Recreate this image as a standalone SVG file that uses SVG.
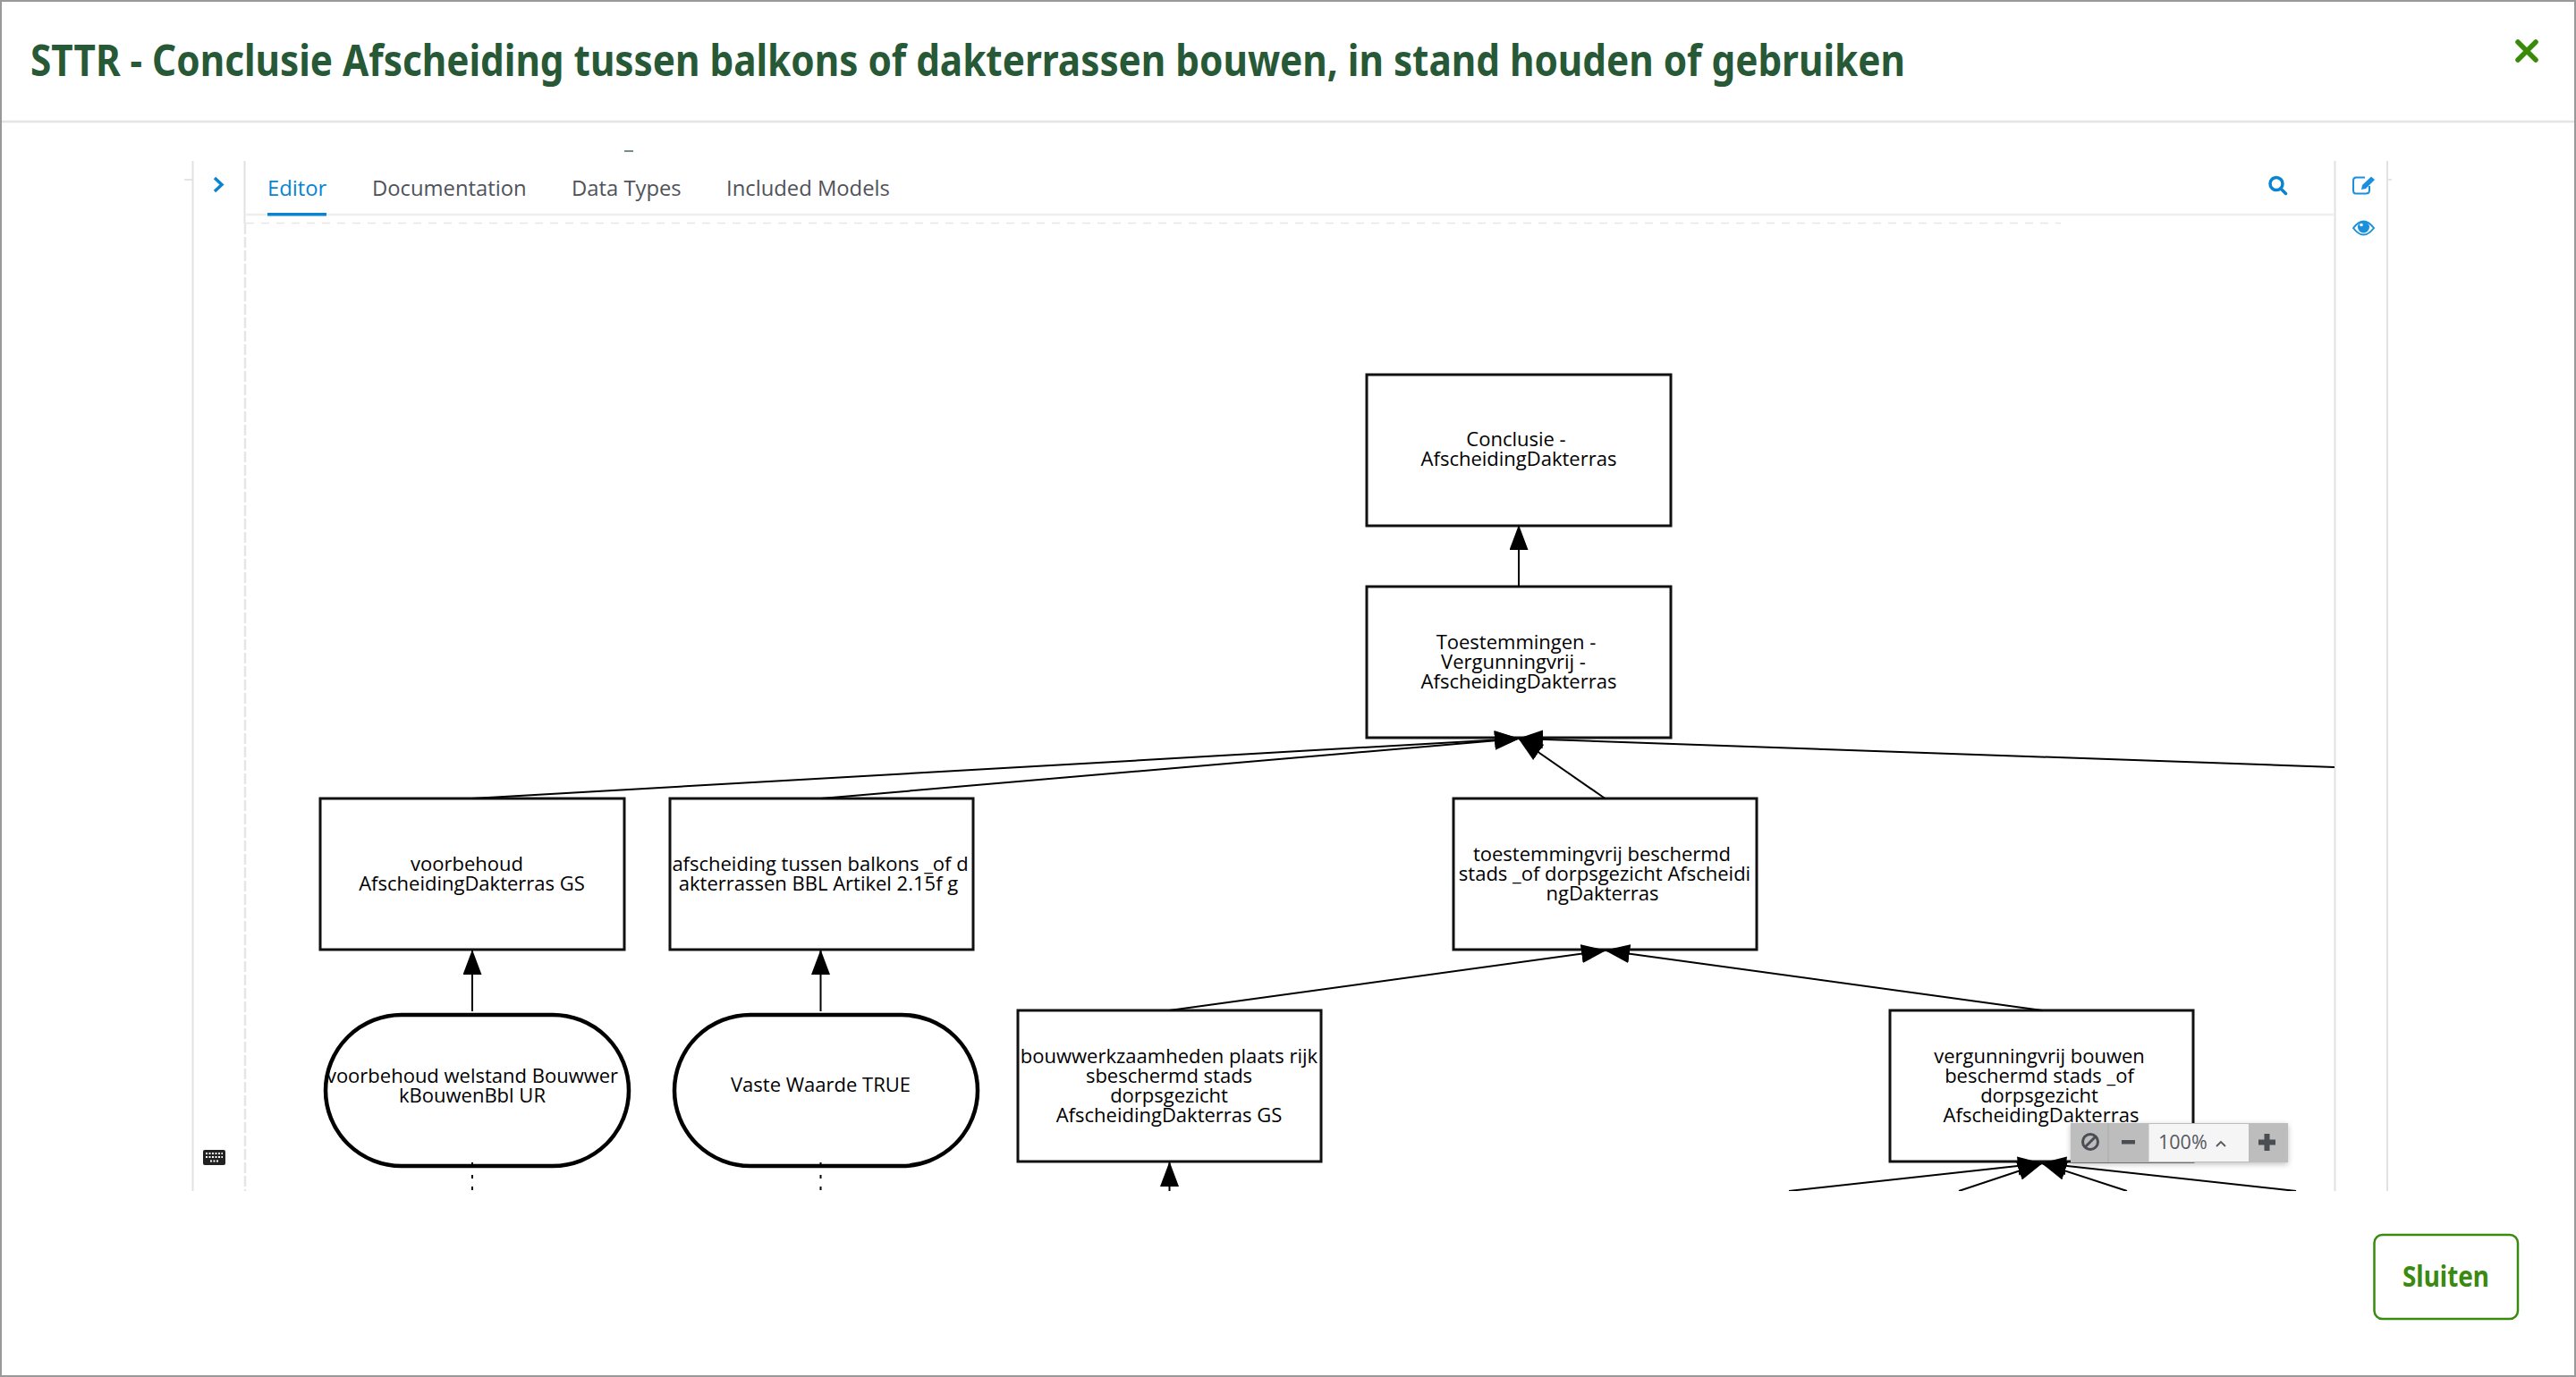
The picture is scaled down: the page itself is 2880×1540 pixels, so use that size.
<svg xmlns="http://www.w3.org/2000/svg" width="2880" height="1540" viewBox="0 0 2880 1540">
<style>
text{font-family:"Open Sans","Noto Sans",sans-serif}
.n{fill:#fff;stroke:#111;stroke-width:3}
.o{fill:#fff;stroke:#000;stroke-width:4.500}
.t{font-size:22px;fill:#000;text-anchor:middle}
.e{fill:none;stroke:#000;stroke-width:2}
.ui{fill:none;stroke:#e2e2e2;stroke-width:2}
.tab{font-size:23.800px;fill:#505259}
.z{fill:#4a4d52}
</style>
<defs>
<marker id="ah" markerUnits="userSpaceOnUse" markerWidth="30" markerHeight="22" refX="27" refY="10.500" orient="auto"><path d="M0 0L28 10.500L0 21Z" fill="#000"/></marker>
<clipPath id="canvas"><rect x="275" y="250" width="2335" height="1082"/></clipPath>
<filter id="sh" x="-5%" y="-10%" width="110%" height="130%"><feDropShadow dx="0" dy="2" stdDeviation="3" flood-color="#000" flood-opacity=".25"/></filter>
</defs>
<rect width="2880" height="1540" fill="#fff"/>
<g id="chrome">
<rect x="1" y="1" width="2878" height="1538" fill="none" stroke="#999" stroke-width="2"/>
<path d="M2 136H2878" stroke="#e4e4e4" stroke-width="2.500"/>
<text x="34" y="85" font-size="48" font-weight="700" fill="#275937" textLength="2096" lengthAdjust="spacingAndGlyphs" style="font-family:'Noto Sans',sans-serif">STTR - Conclusie Afscheiding tussen balkons of dakterrassen bouwen, in stand houden of gebruiken</text>
<path d="M2815 47L2835 67M2835 47L2815 67" stroke="#3a8a0a" stroke-width="5.500" stroke-linecap="round"/>
<path d="M698 169H708" stroke="#4a6a55" stroke-width="1.500"/>
<path class="ui" d="M215.500 180V1332M273.500 180V250M2610.500 180V1332M2669 180V1332"/>
<path d="M206 201H215M2670 201H2674" stroke="#ddd" stroke-width="1.500"/>
<path d="M275 240H2610" stroke="#eee" stroke-width="2.500"/>
<path d="M275 249.500H2304" stroke="#e6e6e6" stroke-width="1.500" stroke-dasharray="9 8"/>
<path d="M274 250V1332" stroke="#e6e6e6" stroke-width="2.500" stroke-dasharray="12 3"/>
<path d="M240 199L248 206.500L240 214" fill="none" stroke="#0a84d0" stroke-width="3.500"/>
<text class="tab" x="299" y="219" style="fill:#0a84d0">Editor</text>
<text class="tab" x="416" y="219">Documentation</text>
<text class="tab" x="639" y="219">Data Types</text>
<text class="tab" x="812" y="219">Included Models</text>
<rect x="299" y="238" width="66" height="3.500" fill="#0a84d0"/>
<circle cx="2545" cy="205.500" r="7" fill="none" stroke="#0a84d0" stroke-width="3.500"/>
<path d="M2550 211L2555.500 216.500" stroke="#0a84d0" stroke-width="3.500" stroke-linecap="round"/>
<path d="M2649 208V213Q2649 216.500 2645 216.500H2634Q2631 216.500 2631 213V202Q2631 198.500 2634 198.500H2644" fill="none" stroke="#1a90dc" stroke-width="2"/>
<path d="M2641 207L2651 197.500L2655 201L2645 211L2640 212Z" fill="#1a90dc"/>
<path d="M2631 255Q2642.500 240 2654 255Q2642.500 270 2631 255Z" fill="none" stroke="#1a90dc" stroke-width="2"/>
<circle cx="2642.500" cy="254" r="6.500" fill="#1a90dc"/>
<circle cx="2640" cy="251.500" r="1.800" fill="#fff"/>
<rect x="227" y="1286" width="25" height="17" rx="2" fill="#222"/>
<path d="M230 1290H249M230 1294H249M235 1298.500H244" stroke="#fff" stroke-width="2" stroke-dasharray="2 1.500"/>
</g>
<g id="n1"><rect class="n" x="1528" y="419" width="340" height="169"/>
<text class="t"><tspan x="1695" y="498.500">Conclusie -</tspan><tspan x="1698" y="520.500">AfscheidingDakterras</tspan></text></g>
<g id="n2"><rect class="n" x="1528" y="656" width="340" height="169"/>
<text class="t"><tspan x="1695" y="725.500">Toestemmingen -</tspan><tspan x="1692" y="747.500">Vergunningvrij -</tspan><tspan x="1698" y="769.500">AfscheidingDakterras</tspan></text></g>
<g id="n3"><rect class="n" x="358" y="893" width="340" height="169"/>
<text class="t"><tspan x="522" y="973.500">voorbehoud</tspan><tspan x="527.500" y="995.500">AfscheidingDakterras GS</tspan></text></g>
<g id="n4"><rect class="n" x="749" y="893" width="339" height="169"/>
<text class="t"><tspan x="917" y="973.500">afscheiding tussen balkons _of d</tspan><tspan x="915" y="995.500">akterrassen BBL Artikel 2.15f g</tspan></text></g>
<g id="n5"><rect class="n" x="1625" y="893" width="339" height="169"/>
<text class="t"><tspan x="1791" y="962.500">toestemmingvrij beschermd</tspan><tspan x="1794" y="984.500">stads _of dorpsgezicht Afscheidi</tspan><tspan x="1791.500" y="1006.500">ngDakterras</tspan></text></g>
<g id="n6"><rect class="o" x="364" y="1135" width="339" height="169" rx="85" ry="85"/>
<path class="e" d="M528 1300V1304"/>
<text class="t"><tspan x="528" y="1210.500">voorbehoud welstand Bouwwer</tspan><tspan x="528" y="1232.500">kBouwenBbl UR</tspan></text></g>
<g id="n7"><rect class="o" x="754" y="1135" width="339" height="169" rx="85" ry="85"/>
<path class="e" d="M917.500 1300V1304"/>
<text class="t" x="917.500" y="1221">Vaste Waarde TRUE</text></g>
<g id="n8"><rect class="n" x="1138" y="1130" width="339" height="169"/>
<text class="t"><tspan x="1307" y="1188.500">bouwwerkzaamheden plaats rijk</tspan><tspan x="1307" y="1210.500">sbeschermd stads</tspan><tspan x="1307" y="1232.500">dorpsgezicht</tspan><tspan x="1307" y="1254.500">AfscheidingDakterras GS</tspan></text></g>
<g id="n9"><rect class="n" x="2113" y="1130" width="339" height="169"/>
<text class="t"><tspan x="2280" y="1188.500">vergunningvrij bouwen</tspan><tspan x="2280" y="1210.500">beschermd stads _of</tspan><tspan x="2280" y="1232.500">dorpsgezicht</tspan><tspan x="2282" y="1254.500">AfscheidingDakterras</tspan></text></g>
<g id="connectors" clip-path="url(#canvas)">
<path class="e" marker-end="url(#ah)" d="M1698 656V588"/>
<path class="e" marker-end="url(#ah)" d="M528 893L1698 826"/>
<path class="e" marker-end="url(#ah)" d="M918 893L1698 826"/>
<path class="e" marker-end="url(#ah)" d="M1794.500 893L1698 826"/>
<path class="e" marker-end="url(#ah)" d="M2612 858L1698 826"/>
<path class="e" marker-end="url(#ah)" d="M1307.500 1130L1795 1063"/>
<path class="e" marker-end="url(#ah)" d="M2283 1130L1795 1063"/>
<path class="e" marker-end="url(#ah)" d="M528 1131V1063"/>
<path class="e" marker-end="url(#ah)" d="M917.500 1131V1063"/>
<path class="e" marker-end="url(#ah)" d="M1307.500 1334V1300"/>
<path class="e" marker-end="url(#ah)" d="M2000 1332L2283 1301"/>
<path class="e" marker-end="url(#ah)" d="M2190 1332L2283 1301"/>
<path class="e" marker-end="url(#ah)" d="M2378 1332L2283 1301"/>
<path class="e" marker-end="url(#ah)" d="M2567 1332L2283 1301"/>
<path class="e" d="M528 1314V1318M528 1327V1331M917.500 1314V1318M917.500 1327V1331"/>
</g>
<g id="zoom-widget">
<rect x="2315" y="1256" width="243" height="44" fill="#bdbdbd" filter="url(#sh)"/>
<rect x="2402.500" y="1257" width="111.500" height="42" fill="#f5f5f5"/>
<path d="M2357 1256V1300" stroke="#b0b0b0" stroke-width="1.500"/>
<circle cx="2337" cy="1277" r="8.500" fill="none" stroke="#4a4d52" stroke-width="3"/>
<path d="M2331 1283L2343 1271" stroke="#4a4d52" stroke-width="3"/>
<rect class="z" x="2372" y="1275" width="15" height="4.500"/>
<path class="z" d="M2531.500 1268H2537.500V1274.500H2544V1280.500H2537.500V1287H2531.500V1280.500H2525V1274.500H2531.500Z"/>
<text x="2413" y="1285" font-size="21.500" fill="#55585e">100%</text>
<path d="M2478 1282L2483 1277L2488 1282" fill="none" stroke="#55585e" stroke-width="1.800"/>
</g>
<g id="close-button">
<rect x="2654.500" y="1381" width="160.500" height="94" rx="9" fill="#fff" stroke="#398a0f" stroke-width="2.500"/>
<text x="2686" y="1439" font-size="33" font-weight="700" fill="#398a0f" textLength="97" lengthAdjust="spacingAndGlyphs" style="font-family:'Noto Sans',sans-serif">Sluiten</text>
</g>
</svg>
